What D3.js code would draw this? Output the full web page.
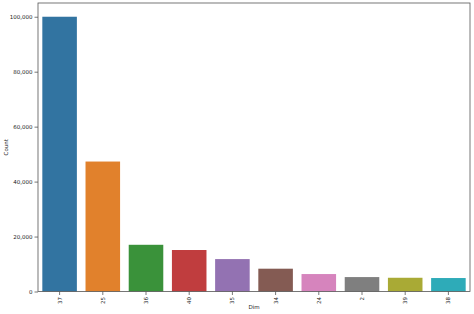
<!DOCTYPE html>
<html>
<head>
<meta charset="utf-8">
<script src="https://cdn.jsdelivr.net/npm/d3@7"></script>
<style>
  body { margin: 0; background: #fff; }
  svg text { font-family: "DejaVu Sans", sans-serif; fill: #222; }
</style>
</head>
<body>
<svg></svg>
<script>
let dims = ['37', '25', '36', '40', '35', '34', '24', '2', '39', '38']
let counts = [100000, 47300, 17000, 15100, 11800, 8300, 6350, 5250, 5000, 4900]
let colors = ['#3274a1', '#e1812c', '#3a923a', '#c03d3e', '#9372b2', '#845b53', '#d684bd', '#7f7f7f', '#a9aa35', '#2eabb8']
let yTicks = [0, 20000, 40000, 60000, 80000, 100000]

const w = 474
const h = 314
const plotLeft = 38
const plotRight = 470
const plotTop = 3
const plotBottom = 291.5

let svg = d3.select('svg').attr('width', w).attr('height', h)

let xScale = d3.scaleBand()
  .domain(dims)
  .range([plotLeft, plotRight])
  .paddingInner(0.2)
  .paddingOuter(0.1)

let yScale = d3.scaleLinear()
  .domain([0, 105000])
  .range([plotBottom, plotTop])

svg.selectAll('rect.bar')
  .data(dims)
  .enter()
  .append('rect')
  .attr('class', 'bar')
  .attr('x', d => xScale(d))
  .attr('width', xScale.bandwidth())
  .attr('y', (d, i) => yScale(counts[i]))
  .attr('height', (d, i) => plotBottom - yScale(counts[i]))
  .attr('fill', (d, i) => colors[i])

// frame
svg.append('rect')
  .attr('x', plotLeft)
  .attr('y', plotTop)
  .attr('width', plotRight - plotLeft)
  .attr('height', plotBottom - plotTop)
  .attr('fill', 'none')
  .attr('stroke', '#555')
  .attr('stroke-width', 0.8)

let yAxis = d3.axisLeft(yScale)
  .tickValues(yTicks)
  .tickFormat(d3.format(','))
  .tickSize(3.5)
  .tickPadding(2)

let gy = svg.append('g')
  .attr('transform', 'translate(' + plotLeft + ', 0)')
  .call(yAxis)
gy.select('.domain').remove()
gy.selectAll('line').attr('stroke', '#555').attr('stroke-width', 0.8)
gy.selectAll('text').style('font-size', '5.5px')

let xAxis = d3.axisBottom(xScale).tickSize(3.5).tickSizeOuter(0)

let gx = svg.append('g')
  .attr('transform', 'translate(0, ' + plotBottom + ')')
  .call(xAxis)
gx.select('.domain').remove()
gx.selectAll('line').attr('stroke', '#555').attr('stroke-width', 0.8)
gx.selectAll('text')
  .style('font-size', '5.5px')
  .attr('transform', 'rotate(-90)')
  .attr('text-anchor', 'end')
  .attr('x', -5.5)
  .attr('y', 0)
  .attr('dy', '0.35em')

svg.append('text')
  .attr('x', (plotLeft + plotRight) / 2)
  .attr('y', 309)
  .attr('text-anchor', 'middle')
  .style('font-size', '5.5px')
  .text('Dim')

svg.append('text')
  .attr('transform', 'translate(8, ' + ((plotTop + plotBottom) / 2) + ') rotate(-90)')
  .attr('text-anchor', 'middle')
  .style('font-size', '5.5px')
  .text('Count')
</script>
</body>
</html>
